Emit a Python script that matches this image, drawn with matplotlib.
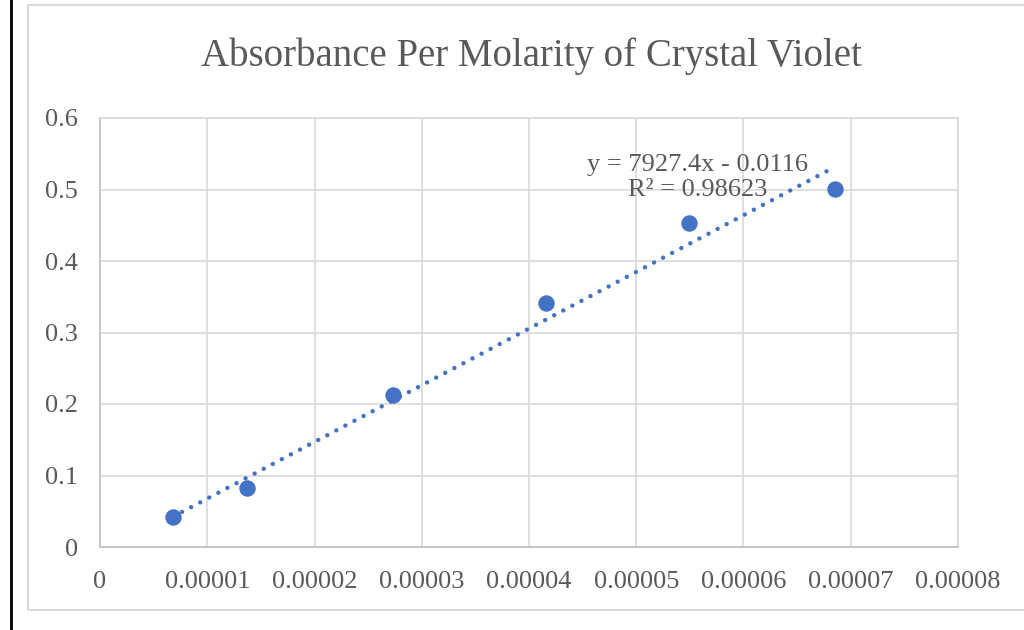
import matplotlib.pyplot as plt
import numpy as np
from matplotlib.patches import Rectangle
from matplotlib.lines import Line2D

# data
molarity = [6.8e-6, 1.37e-5, 2.73e-5, 4.16e-5, 5.49e-5, 6.85e-5]
absorbance = [0.042, 0.082, 0.213, 0.341, 0.453, 0.501]
xticks = [0, 0.00001, 0.00002, 0.00003, 0.00004, 0.00005, 0.00006, 0.00007, 0.00008]
xticklabels = ["0", "0.00001", "0.00002", "0.00003", "0.00004", "0.00005", "0.00006", "0.00007", "0.00008"]
yticks = [0, 0.1, 0.2, 0.3, 0.4, 0.5, 0.6]
yticklabels = ["0", "0.1", "0.2", "0.3", "0.4", "0.5", "0.6"]
slope, intercept = 7927.4, -0.0116
eq_text = "y = 7927.4x - 0.0116\nR² = 0.98623"

blue = "#4472C4"
txt = "#595959"
plt.rcParams['font.family'] = ['Liberation Serif', 'DejaVu Serif']

fig = plt.figure(figsize=(10.24, 6.3), dpi=100)

# chart frame + black left edge
fig.add_artist(Rectangle((28 / 1024, 1 - 610 / 630), 1.0, (605) / 630,
                         transform=fig.transFigure, fill=False, ec="#D9D9D9", lw=1.5))
fig.add_artist(Line2D([11 / 1024, 11 / 1024], [0, 1], transform=fig.transFigure, color="black", lw=2))

ax = fig.add_axes([100 / 1024, 1 - 547 / 630, 858 / 1024, 429 / 630])
ax.set_xlim(0, 0.00008)
ax.set_ylim(0, 0.6)
ax.set_xticks(xticks)
ax.set_xticklabels(xticklabels)
ax.set_yticks(yticks)
ax.set_yticklabels(yticklabels)
ax.grid(True, color="#D9D9D9", lw=1.2)
ax.set_axisbelow(True)
for s in ax.spines.values():
    s.set_color("#D9D9D9")
    s.set_linewidth(1.2)
ax.spines["bottom"].set_color("#BFBFBF")
ax.spines["left"].set_color("#BFBFBF")
ax.tick_params(length=0, labelsize=19, labelcolor=txt)
ax.tick_params(axis="x", pad=17)
ax.tick_params(axis="y", pad=16)

xs = np.array([min(molarity), max(molarity) - 6e-7])
ax.plot(xs, slope * xs + intercept, color=blue, lw=3.2, ls=(0, (0.01, 2.3)),
        dash_capstyle="round", zorder=2)
ax.scatter(molarity, absorbance, s=140, color=blue, zorder=3, linewidths=0)

ax.text(0.0000557, 0.517, eq_text, ha="center", va="center", fontsize=19,
        color=txt, linespacing=1.18)

fig.text(531 / 1024, 1 - 56 / 630, "Absorbance Per Molarity of Crystal Violet",
         ha="center", va="center", fontsize=28, color=txt)

fig.savefig("out.png", dpi=100)
